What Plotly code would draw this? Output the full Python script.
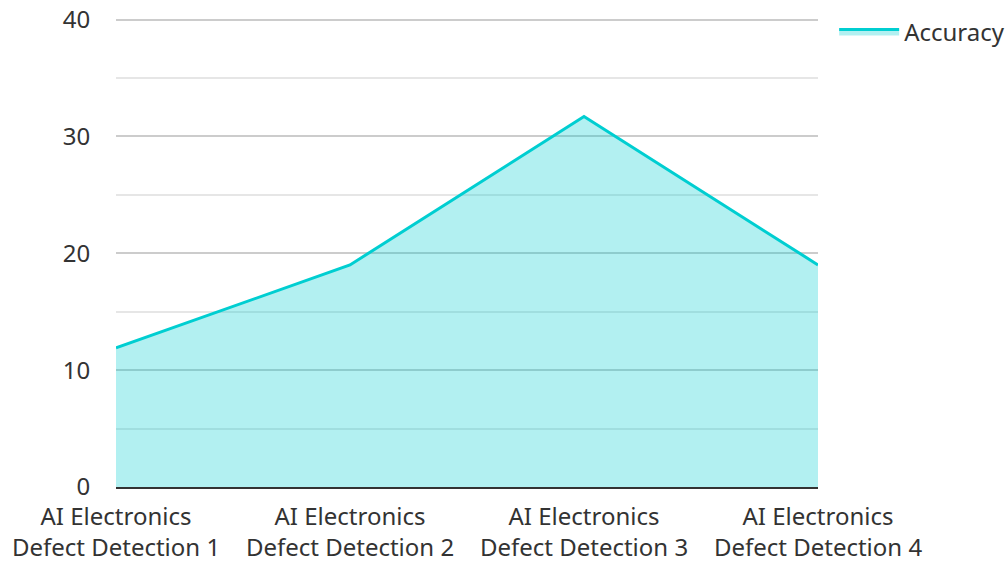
import plotly.graph_objects as go

categories = ["AI Electronics<br>Defect Detection 1", "AI Electronics<br>Defect Detection 2",
              "AI Electronics<br>Defect Detection 3", "AI Electronics<br>Defect Detection 4"]
accuracy = [11.9, 19.0, 31.7, 19.0]
series_name = "Accuracy"

fig = go.Figure()
fig.add_trace(go.Scatter(
    x=categories, y=accuracy, name=series_name, mode="lines",
    fill="tozeroy", fillcolor="rgba(0,206,209,0.3)",
    line=dict(color="#00CED1", width=3),
))

fig.update_layout(
    width=1008, height=561,
    margin=dict(l=116, r=190, t=16, b=74, autoexpand=False),
    paper_bgcolor="white", plot_bgcolor="white",
    font=dict(family="Noto Sans", size=24, color="#333"),
    showlegend=True,
    legend=dict(x=1.023, y=0.966, xanchor="left", yanchor="middle",
                itemwidth=60,
                font=dict(size=24, color="#333"), bgcolor="rgba(0,0,0,0)"),
)
fig.update_xaxes(
    type="category", range=[0, 3], showgrid=False, automargin=False,
    showline=True, linecolor="#333", linewidth=2,
    ticks="outside", ticklen=7, tickcolor="rgba(0,0,0,0)",
    tickfont=dict(size=24, color="#333"),
)
fig.update_yaxes(
    range=[0, 40.3], tickvals=[0, 10, 20, 30, 40], automargin=False,
    showgrid=True, gridcolor="#cccccc", gridwidth=2,
    minor=dict(tickvals=[5, 15, 25, 35], showgrid=True, gridcolor="#e6e6e6", gridwidth=2),
    zeroline=False, showline=False,
    ticks="outside", ticklen=20, tickcolor="rgba(0,0,0,0)",
    tickfont=dict(size=24, color="#333"),
)

fig.write_html("out.html")
